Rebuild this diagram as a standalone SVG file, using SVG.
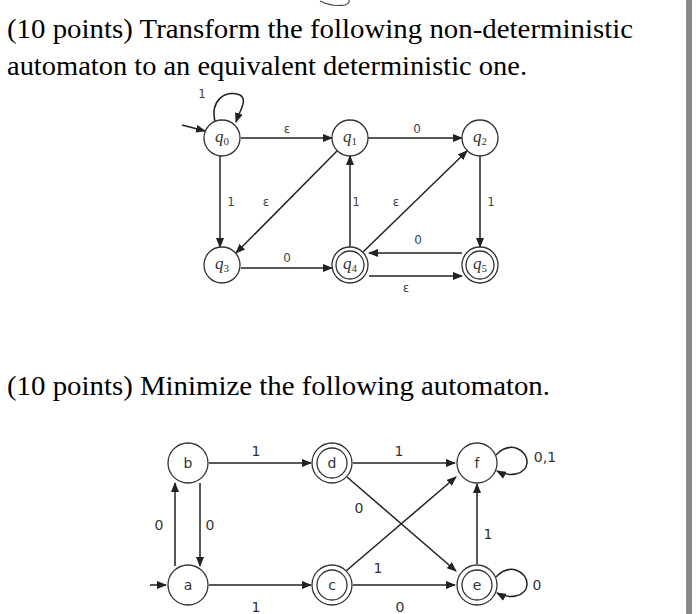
<svg xmlns="http://www.w3.org/2000/svg" width="700" height="614" viewBox="0 0 700 614">
<style>
.h{font-family:"Liberation Serif",serif;font-size:27px;fill:#000}
.n{fill:#fff;stroke:#333;stroke-width:1.3}
.e{fill:none;stroke:#222;stroke-width:1.5}
.q{font-family:"Liberation Serif",serif;font-style:italic;font-size:17px;text-anchor:middle;fill:#333}
.sub{font-size:11px;font-style:normal}
.l{font-family:"DejaVu Sans",sans-serif;font-size:12px;text-anchor:middle;fill:#444}
.s{font-family:"DejaVu Sans",sans-serif;font-size:14px;text-anchor:middle;fill:#333}
</style>
<defs>
<marker id="arr" markerWidth="10" markerHeight="8" refX="9" refY="4" orient="auto" markerUnits="userSpaceOnUse"><path d="M0,0L10,4L0,8z" fill="#222"/></marker>
</defs>
<rect width="700" height="614" fill="#fff"/>
<rect x="686" y="0" width="6" height="614" fill="#888"/>
<path d="M320,1 Q332,7 345,5 Q350,3 349,0" fill="none" stroke="#444" stroke-width="1.2"/>
<text class="h" x="7" y="38" textLength="626" lengthAdjust="spacingAndGlyphs">(10 points) Transform the following non-deterministic</text>
<text class="h" x="7" y="75" textLength="520" lengthAdjust="spacingAndGlyphs">automaton to an equivalent deterministic one.</text>
<text class="h" x="7" y="395" textLength="543" lengthAdjust="spacingAndGlyphs">(10 points) Minimize the following automaton.</text>
<g id="connectors">
<path class="e" marker-end="url(#arr)" d="M182,125L205,131"/>
<path class="e" marker-end="url(#arr)" d="M215,122C210,100 225,90 240,95C248,100 240,110 236,122"/>
<path class="e" marker-end="url(#arr)" d="M241,138H332"/>
<path class="e" marker-end="url(#arr)" d="M368,138H462"/>
<path class="e" marker-end="url(#arr)" d="M220,156V247"/>
<path class="e" marker-end="url(#arr)" d="M337,151L236,253"/>
<path class="e" marker-end="url(#arr)" d="M350,247V156"/>
<path class="e" marker-end="url(#arr)" d="M363,252L467,151"/>
<path class="e" marker-end="url(#arr)" d="M480,156V247"/>
<path class="e" marker-end="url(#arr)" d="M241,268H332"/>
<path class="e" marker-end="url(#arr)" d="M462,253H369"/>
<path class="e" marker-end="url(#arr)" d="M369,276H462"/>
<path class="e" marker-end="url(#arr)" d="M150,585H166"/>
<path class="e" marker-end="url(#arr)" d="M175,566V483"/>
<path class="e" marker-end="url(#arr)" d="M200,483V566"/>
<path class="e" marker-end="url(#arr)" d="M209,463H311"/>
<path class="e" marker-end="url(#arr)" d="M353,463H455"/>
<path class="e" marker-end="url(#arr)" d="M347,477L456,571"/>
<path class="e" marker-end="url(#arr)" d="M209,585H311"/>
<path class="e" marker-end="url(#arr)" d="M346,571L456,477"/>
<path class="e" marker-end="url(#arr)" d="M353,585H455"/>
<path class="e" marker-end="url(#arr)" d="M477,564V484"/>
<path class="e" marker-end="url(#arr)" d="M496,455C510,440 528,450 527,463C526,474 510,478 497,471"/>
<path class="e" marker-end="url(#arr)" d="M496,577C510,562 528,572 527,585C526,596 510,600 497,593"/>
</g>
<g class="l">
<text x="202" y="98">1</text>
<text x="287" y="133">ε</text>
<text x="417" y="133">0</text>
<text x="231" y="206">1</text>
<text x="266" y="206">ε</text>
<text x="356" y="206">1</text>
<text x="396" y="206">ε</text>
<text x="491" y="206">1</text>
<text x="287" y="262">0</text>
<text x="418" y="244">0</text>
<text x="406" y="292">ε</text>
</g>
<g class="s">
<text x="256" y="456">1</text>
<text x="399" y="456">1</text>
<text x="545" y="462">0,1</text>
<text x="159" y="530">0</text>
<text x="210" y="530">0</text>
<text x="359" y="513">0</text>
<text x="488" y="539">1</text>
<text x="378" y="573">1</text>
<text x="256" y="612">1</text>
<text x="400" y="612">0</text>
<text x="537" y="590">0</text>
</g>
<g id="q0"><circle class="n" cx="222" cy="138" r="18"/><text class="q" x="222" y="142">q<tspan class="sub" dy="3">0</tspan></text></g>
<g id="q1"><circle class="n" cx="350" cy="138" r="18"/><text class="q" x="350" y="142">q<tspan class="sub" dy="3">1</tspan></text></g>
<g id="q2"><circle class="n" cx="480" cy="138" r="18"/><text class="q" x="480" y="142">q<tspan class="sub" dy="3">2</tspan></text></g>
<g id="q3"><circle class="n" cx="222" cy="265" r="18"/><text class="q" x="222" y="269">q<tspan class="sub" dy="3">3</tspan></text></g>
<g id="q4"><circle class="n" cx="350" cy="265" r="18"/><circle class="n" cx="350" cy="265" r="14"/><text class="q" x="350" y="269">q<tspan class="sub" dy="3">4</tspan></text></g>
<g id="q5"><circle class="n" cx="480" cy="265" r="18"/><circle class="n" cx="480" cy="265" r="14"/><text class="q" x="480" y="269">q<tspan class="sub" dy="3">5</tspan></text></g>
<g id="node-b"><circle class="n" cx="188" cy="463" r="20"/><text class="s" x="188" y="468">b</text></g>
<g id="node-d"><circle class="n" cx="332" cy="463" r="20"/><circle class="n" cx="332" cy="463" r="15"/><text class="s" x="332" y="468">d</text></g>
<g id="node-f"><circle class="n" cx="477" cy="463" r="20"/><text class="s" x="477" y="468">f</text></g>
<g id="node-a"><circle class="n" cx="188" cy="585" r="20"/><text class="s" x="188" y="590">a</text></g>
<g id="node-c"><circle class="n" cx="332" cy="585" r="20"/><circle class="n" cx="332" cy="585" r="15"/><text class="s" x="332" y="590">c</text></g>
<g id="node-e"><circle class="n" cx="477" cy="585" r="20"/><circle class="n" cx="477" cy="585" r="15"/><text class="s" x="477" y="590">e</text></g>
</svg>
